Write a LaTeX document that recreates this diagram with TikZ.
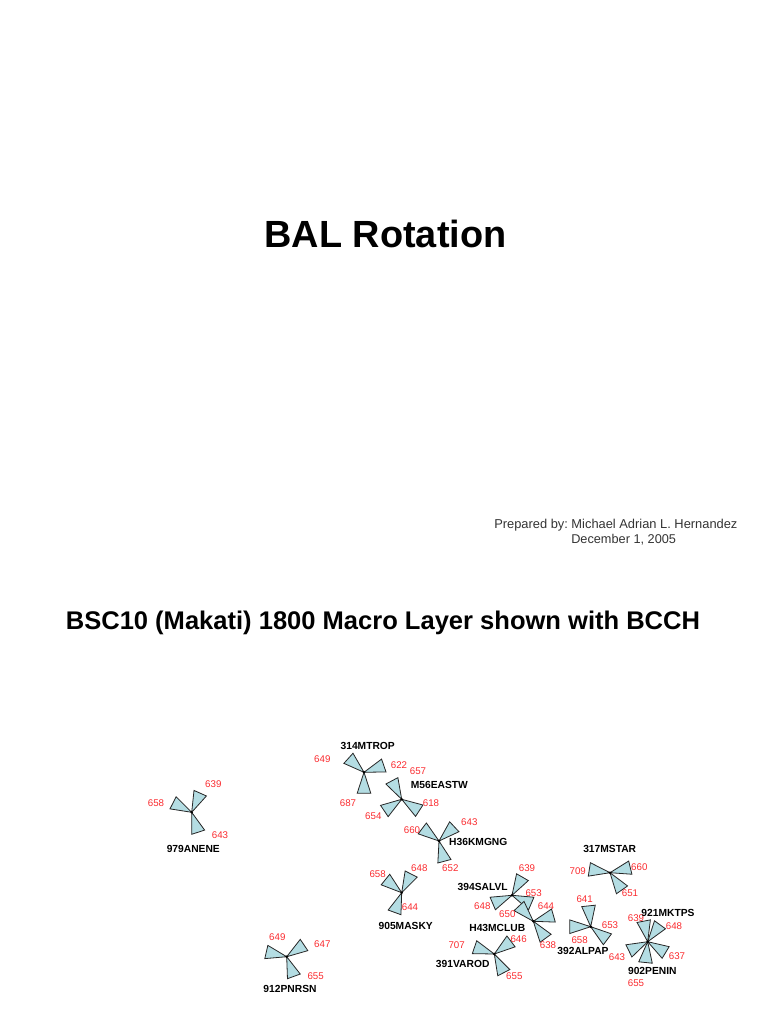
\documentclass[tikz,border=0pt]{standalone}
\usepackage{fontspec}
\setmainfont{Liberation Sans}
\frenchspacing
\definecolor{sectorblue}{HTML}{B4DDE3}
\definecolor{bcchred}{HTML}{FA2A2E}
\tikzset{%
  sector/.style={draw=black!85, fill=sectorblue, line width=0.6pt, line join=miter},
  bcch/.style={text=bcchred, font=\fontsize{7.3}{8}\selectfont, inner sep=0pt},
  site/.style={font=\fontsize{7.7}{9}\selectfont\bfseries, inner sep=0pt},
  hub/.style={fill=black, circle, inner sep=0pt, minimum size=2pt}
}
\begin{document}
\begin{tikzpicture}[x=0.75pt, y=-0.75pt]
    \useasboundingbox (0,0) rectangle (768,1024);

    \node[font=\fontsize{28.4}{32}\selectfont\bfseries, inner sep=0pt] (title) at (385.5,233.5) {BAL Rotation};
    \node[font=\fontsize{9.65}{11}\selectfont, anchor=west, inner sep=0pt, text=black!80] (prepared) at (494,525) {Prepared by: Michael Adrian L. Hernandez};
    \node[font=\fontsize{9.55}{11}\selectfont, anchor=west, inner sep=0pt, text=black!80] (date) at (571,540) {December 1, 2005};
    \node[font=\fontsize{19.15}{22}\selectfont\bfseries, inner sep=0pt] (heading) at (383,622.5) {BSC10 (Makati) 1800 Macro Layer shown with BCCH};

    \coordinate (anene) at (191.7,812.3);
    \coordinate (mtrop) at (364,772.3);
    \coordinate (eastw) at (401.7,799.3);
    \coordinate (kmgng) at (439,841);
    \coordinate (masky) at (401.7,892.7);
    \coordinate (pnrsn) at (286.7,956.7);
    \coordinate (salvl) at (512,895.3);
    \coordinate (mclub) at (533.3,921.3);
    \coordinate (varod) at (494.3,954);
    \coordinate (mstar) at (610,872.7);
    \coordinate (alpap) at (590.7,926.7);
    \coordinate (penin) at (647.7,941.7);

    \foreach \c/\a in {anene/207, anene/-66, anene/72,
                       mtrop/222, mtrop/-19, mtrop/90,
                       eastw/242, eastw/146, eastw/33,
                       kmgng/217, kmgng/-43, kmgng/75,
                       masky/219, masky/-63, masky/110,
                       pnrsn/193, pnrsn/-34, pnrsn/70,
                       salvl/-60, salvl/157, salvl/23,
                       mclub/227, mclub/-16, mclub/54,
                       varod/199, varod/-37, varod/63,
                       mstar/189, mstar/-14, mstar/55,
                       alpap/264, alpap/180, alpap/37,
                       penin/259, penin/-54, penin/154, penin/96, penin/31}
        \draw[sector] (\c) -- +(\a-18:22) -- +(\a+18:22) -- cycle;

    \foreach \c in {anene, mtrop, eastw, kmgng, masky, pnrsn, salvl, mclub, varod, mstar, alpap, penin}
        \node[hub] (hub\c) at (\c) {};

    \foreach \x/\y/\t [count=\i] in {
        213.3/784/639, 156/803/658, 220/835.3/643,
        322.3/758.7/649, 399/764.7/622, 348/803/687,
        418/771.3/657, 431/803/618, 373.3/816.3/654,
        412/829.7/660, 469.3/822.3/643, 450.3/867.7/652,
        377.7/873.7/658, 419.3/868/648, 410/907.3/644,
        277.3/937.3/649, 322.3/944.3/647, 315.7/975.7/655,
        527/867.7/639, 533.7/892.7/653, 482.3/906.3/648,
        507.3/914.3/650, 546/906/644, 548/944.7/638,
        518.7/938.7/646, 456.7/944.7/707, 514.3/975.7/655,
        577.7/870.7/709, 639.3/866.7/660, 630/893/651,
        584.7/899/641, 610/925.3/653, 579.7/940.3/658,
        636/918.3/639, 674/925.7/648, 617/956.7/643,
        677/955.7/637, 636/983/655}
        \node[bcch] (bcch\i) at (\x,\y) {\t};

    \foreach \x/\y/\t [count=\i] in {
        193.3/849.3/979ANENE, 367.7/746/314MTROP, 439.3/784.7/M56EASTW,
        478.3/842/H36KMGNG, 405.7/926/905MASKY, 290/989.3/912PNRSN,
        482.7/886.7/394SALVL, 497.3/928/H43MCLUB, 462.7/964.3/391VAROD,
        609.7/849.3/317MSTAR, 583/951/392ALPAP, 668/912.7/921MKTPS,
        652.3/970.7/902PENIN}
        \node[site] (name\i) at (\x,\y) {\t};
\end{tikzpicture}
\end{document}
